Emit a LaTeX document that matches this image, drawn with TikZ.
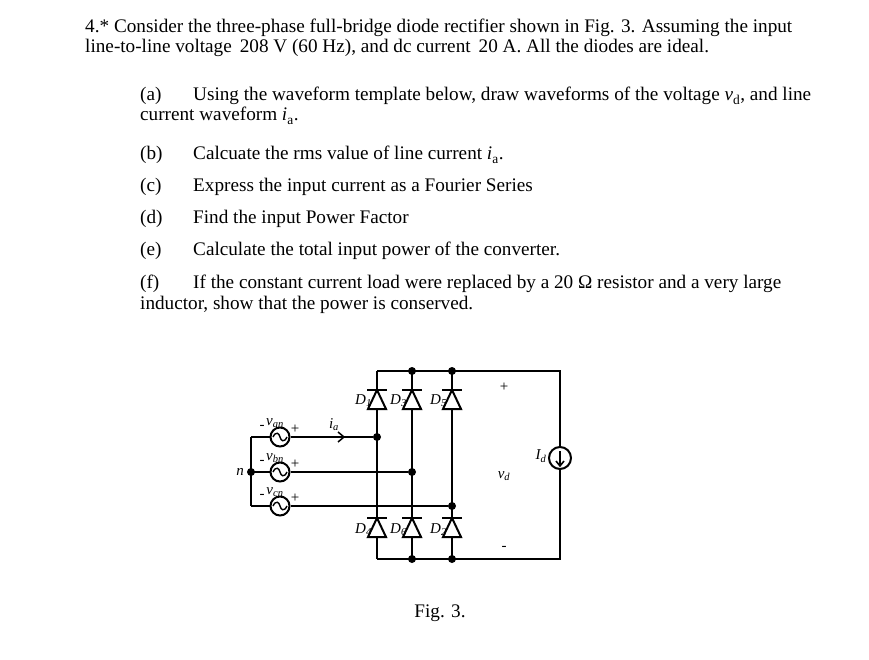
\documentclass[tikz,border=0pt]{standalone}
\usepackage{fontspec}
\setmainfont{Liberation Serif}
\begin{document}
\begin{tikzpicture}[x=1pt,y=-1pt,
  txt/.style={anchor=base west,inner sep=0,font=\fontsize{19.2}{22}\selectfont},
  wire/.style={line width=2pt},
  dot/.style={circle,fill,inner sep=0,minimum size=8pt},
  lab/.style={inner sep=0,font=\fontsize{15}{16}\selectfont\itshape}]
\useasboundingbox (0,0) rectangle (869,660);
\node[txt] (l1) at (85,33) {4.* Consider the three-phase full-bridge diode rectifier shown in Fig. 3. Assuming the input};
\node[txt] (l2) at (85,53) {line-to-line voltage\, 208 V (60 Hz), and dc current\, 20 A. All the diodes are ideal.};
\node[txt] (a1) at (140,101) {(a)};
\node[txt] (a2) at (193,101) {Using the waveform template below, draw waveforms of the voltage \textit{v}\textsubscript{d}, and line};
\node[txt] (a3) at (140,121) {current waveform \textit{i}\textsubscript{a}.};
\node[txt] (b1) at (140,160) {(b)};
\node[txt] (b2) at (193,160) {Calcuate the rms value of line current \textit{i}\textsubscript{a}.};
\node[txt] (c1) at (140,192) {(c)};
\node[txt] (c2) at (193,192) {Express the input current as a Fourier Series};
\node[txt] (d1) at (140,223) {(d)};
\node[txt] (d2) at (193,223) {Find the input Power Factor};
\node[txt] (e1) at (140,255) {(e)};
\node[txt] (e2) at (193,255) {Calculate the total input power of the converter.};
\node[txt] (f1) at (140,288) {(f)};
\node[txt] (f2) at (193,288) {If the constant current load were replaced by a 20 Ω resistor and a very large};
\node[txt] (f3) at (140,309) {inductor, show that the power is conserved.};
\node[txt,anchor=base] (fig) at (440,617) {Fig. 3.};
% circuit
\coordinate (TL) at (377,371); \coordinate (TR) at (560,371);
\coordinate (BL) at (377,559); \coordinate (BR) at (560,559);
\node[circle,draw,line width=2pt,minimum size=22pt,inner sep=0] (Id) at (560,458) {};
\draw[wire] (TL) -- (TR) -- (Id.north);
\draw[wire] (Id.south) -- (BR) -- (BL);
\draw[wire] (560,451) -- (560,465);
\draw[line width=1.6pt] (556,461) -- (560,466) -- (564,461);
\node[lab] (Idl) at (541,456) {I\textsubscript{d}};
\foreach \x/\n/\m in {377/1/4,412/3/6,452/5/2}{
  \draw[wire] (\x,371) -- (\x,559);
  \draw[wire,fill=white] (\x-9,409) -- (\x+9,409) -- (\x,390) -- cycle;
  \draw[wire] (\x-10,390) -- (\x+10,390);
  \draw[wire,fill=white] (\x-9,537) -- (\x+9,537) -- (\x,518) -- cycle;
  \draw[wire] (\x-10,518) -- (\x+10,518);
  \node[lab,anchor=east] at (\x-5,401) {D\textsubscript{\n}};
  \node[lab,anchor=east] at (\x-5,530) {D\textsubscript{\m}};
}
\foreach \x in {412,452}{\node[dot] at (\x,371) {}; \node[dot] at (\x,559) {};}
\node[dot] (ja) at (377,437) {};
\node[dot] (jb) at (412,472) {};
\node[dot] (jc) at (452,506) {};
\node[dot] (n) at (251,472) {};
\node[lab] at (240,472) {n};
\draw[wire] (251,437) -- (251,506);
\foreach \y/\p in {437/an,472/bn,506/cn}{
  \node[circle,draw,line width=2pt,minimum size=19pt,inner sep=0] (s\p) at (280,\y) {};
  \draw[line width=1.4pt] (273,\y) .. controls (276,\y-6) and (279,\y-4) .. (280,\y) .. controls (281,\y+4) and (284,\y+6) .. (287,\y);
  \draw[wire] (251,\y) -- (s\p.west);
  \node[lab,font=\fontsize{15}{16}\selectfont] at (262,\y-10) {-};
  \node[lab,font=\fontsize{15}{16}\selectfont] at (295,\y-8) {+};
  \node[lab] at (275,\y-14) {v\textsubscript{\p}};
}
\draw[wire] (san.east) -- (ja);
\draw[wire] (sbn.east) -- (jb);
\draw[wire] (scn.east) -- (jc);
\draw[line width=1.5pt] (338,432) -- (344,437) -- (338,442);
\node[lab] at (334,425) {i\textsubscript{a}};
\node[font=\fontsize{15}{16}\selectfont,inner sep=0] at (504,387) {+};
\node[font=\fontsize{15}{16}\selectfont,inner sep=0] at (504,548) {-};
\node[lab] at (504,476) {v\textsubscript{d}};
\end{tikzpicture}
\end{document}
